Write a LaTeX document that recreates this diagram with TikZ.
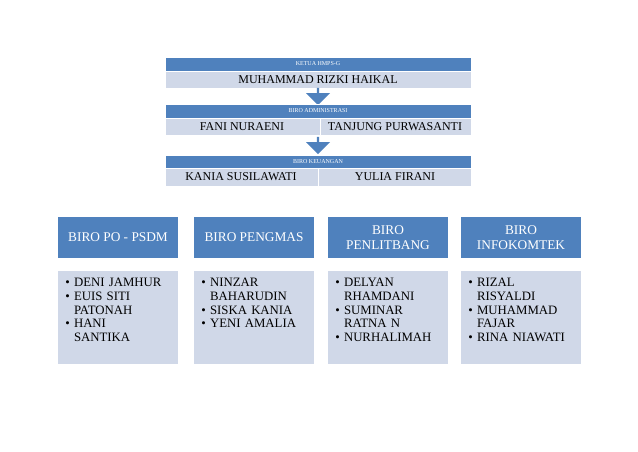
\documentclass[tikz,border=0pt]{standalone}
\usepackage{fontspec}
\setmainfont{Liberation Serif}
\usetikzlibrary{shapes.arrows}
\definecolor{dk}{HTML}{4F81BD}
\definecolor{lt}{HTML}{D0D8E8}
\begin{document}
\begin{tikzpicture}[x=0.75pt,y=-0.75pt,
 hdr/.style={fill=dk,draw=white,line width=0.6pt},
 row/.style={fill=lt,draw=white,line width=0.6pt},
 tiny/.style={text=white,font=\fontsize{4.5}{5}\selectfont},
 rowt/.style={font=\fontsize{9}{10}\selectfont},
 colh/.style={text=white,font=\fontsize{10}{11}\selectfont,align=center},
 colb/.style={font=\fontsize{9.6}{10.3}\selectfont,align=left,anchor=north west,text width=85pt,inner sep=0pt},
 arr/.style={fill=dk,single arrow,shape border rotate=270,minimum height=13pt,minimum width=18pt,single arrow head extend=2pt,inner sep=0pt}]
\useasboundingbox (0,0) rectangle (638,452);
\draw[hdr] (165,57) rectangle (471,71); \node[tiny] (k1) at (318,64) {KETUA HMPS-G};
\draw[row] (165,71) rectangle (471,88); \node[rowt] (k2) at (318,80) {MUHAMMAD RIZKI HAIKAL};
\node[arr] (a1) at (318,96) {};
\draw[hdr] (165,104) rectangle (471,118); \node[tiny] (b1) at (318,111) {BIRO ADMINISTRASI};
\draw[row] (165,118) rectangle (320,135); \node[rowt] (b2) at (242,127) {FANI NURAENI};
\draw[row] (320,118) rectangle (471,135); \node[rowt] (b3) at (395,127) {TANJUNG PURWASANTI};
\node[arr] (a2) at (318,145) {};
\draw[hdr] (165,155) rectangle (471,168); \node[tiny] (c1) at (318,161.5) {BIRO KEUANGAN};
\draw[row] (165,168) rectangle (318,186); \node[rowt] (c2) at (241,177) {KANIA SUSILAWATI};
\draw[row] (318,168) rectangle (471,186); \node[rowt] (c3) at (395,177) {YULIA FIRANI};
\foreach \x/\h/\b [count=\i] in {
 58/{BIRO PO - PSDM}/{\textbullet\ DENI JAMHUR\\\textbullet\ EUIS SITI\\\phantom{\textbullet\ }PATONAH\\\textbullet\ HANI\\\phantom{\textbullet\ }SANTIKA},
 194/{BIRO PENGMAS}/{\textbullet\ NINZAR\\\phantom{\textbullet\ }BAHARUDIN\\\textbullet\ SISKA KANIA\\\textbullet\ YENI AMALIA},
 328/{BIRO\\PENLITBANG}/{\textbullet\ DELYAN\\\phantom{\textbullet\ }RHAMDANI\\\textbullet\ SUMINAR\\\phantom{\textbullet\ }RATNA N\\\textbullet\ NURHALIMAH},
 461/{BIRO\\INFOKOMTEK}/{\textbullet\ RIZAL\\\phantom{\textbullet\ }RISYALDI\\\textbullet\ MUHAMMAD\\\phantom{\textbullet\ }FAJAR\\\textbullet\ RINA NIAWATI}} {
 \fill[dk] (\x,217) rectangle ++(120,41);
 \node[colh] (h\i) at (\x+60,237.5) {\h};
 \fill[lt] (\x,271) rectangle ++(120,93);
 \node[colb] (l\i) at (\x+7,278) {\b};
}
\end{tikzpicture}
\end{document}
